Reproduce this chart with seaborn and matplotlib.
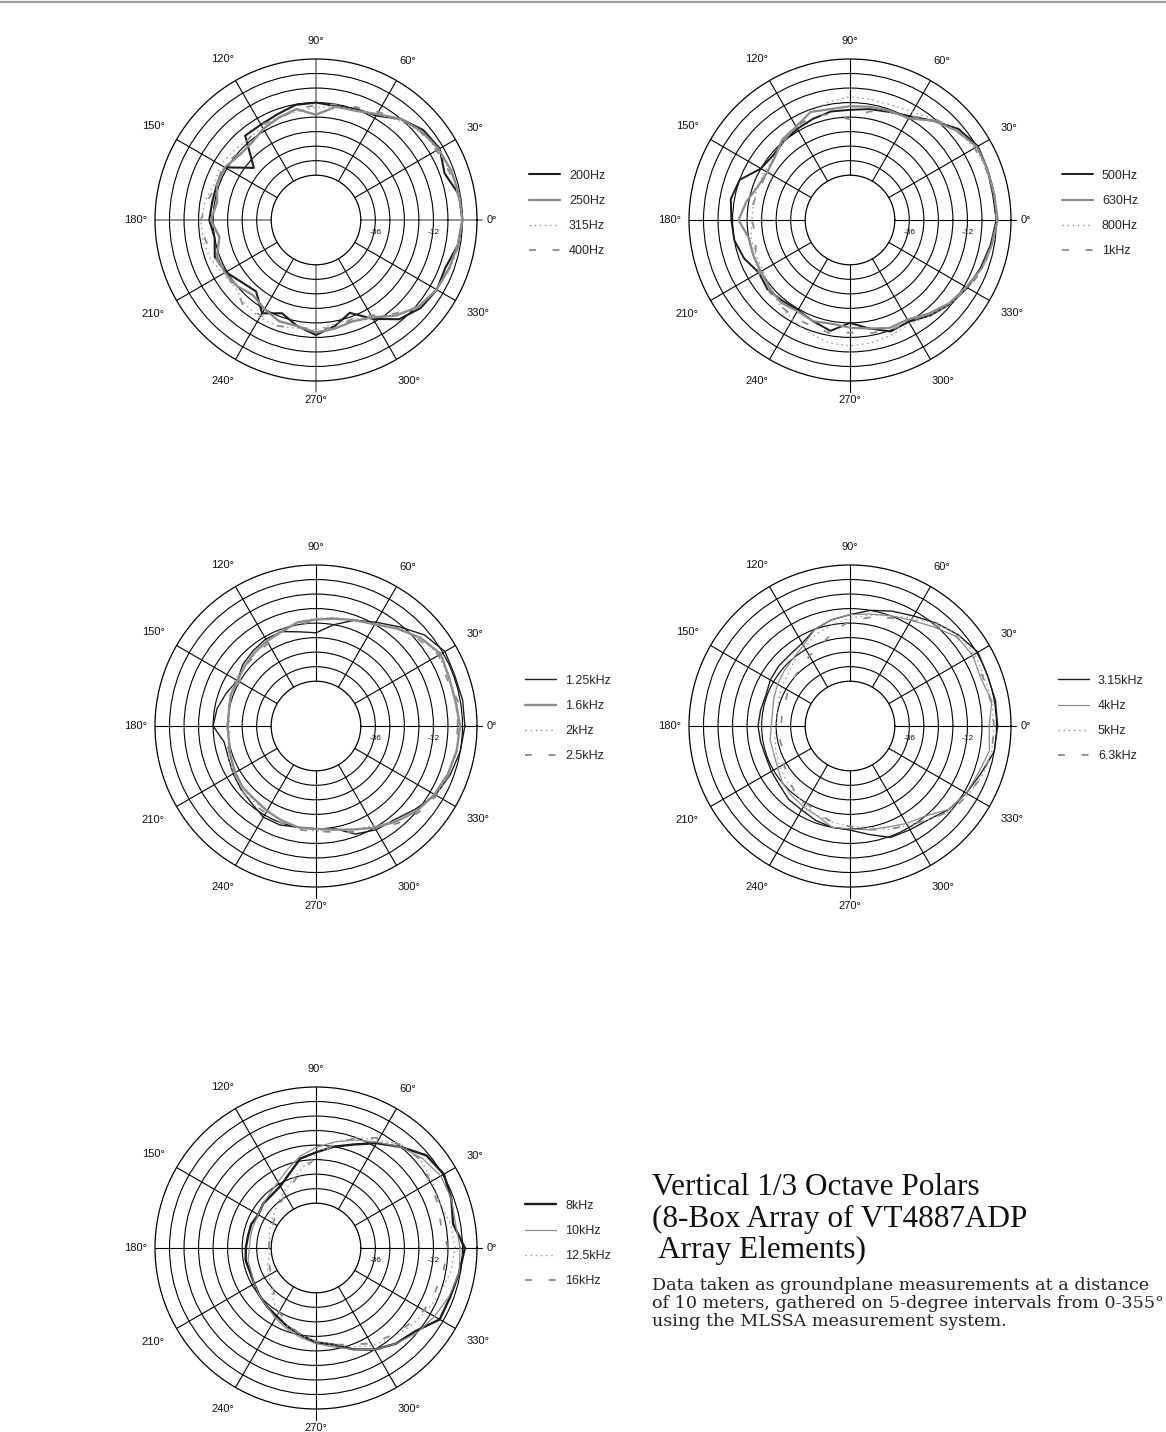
import numpy as np
import pandas as pd
import matplotlib
matplotlib.use("Agg")
import matplotlib.pyplot as plt
import matplotlib.transforms as mtransforms
import seaborn as sns
from matplotlib.lines import Line2D

sns.set_theme(style="white")
plt.rcParams["font.family"] = ["Liberation Sans", "DejaVu Sans"]
plt.rcParams["lines.scale_dashes"] = False

# ---------------- data (dB, every 10 degrees, 0..350) ----------------
angles_deg = list(range(0, 360, 10))
theta_tick_deg = list(range(0, 360, 30))
theta_labels = [f"{a}°" for a in theta_tick_deg]
ring_ticks = [-36, -30, -24, -18, -12, -6, 0]
ring_labels = ["-36", "-12"]

names_p1 = ["200Hz", "250Hz", "315Hz", "400Hz"]
p1_200 = [0, -0.5, -4, -1.5, -2.7, -6, -10.7, -11.8, -12.7, -12, -12.2, -14, -15, -15, -27, -17, -17, -17,
          -16.4, -18, -16, -17.5, -20.5, -22, -16, -19.5, -16, -13, -16, -19.7, -13.3, -7, -4, -2.9, -3.5, -1]
p1_250 = [0, -0.5, -1, -2, -3.5, -6, -10, -12.5, -13, -17, -14, -15.5, -17, -19, -19, -17, -17, -19,
          -17, -20, -17, -17, -18, -20, -18, -16, -16, -14, -15, -16, -14, -9, -5, -3, -2, -1]
p1_315 = [0, -0.5, -1.5, -2.5, -4, -7, -10, -12, -13, -14, -15, -15, -16, -17, -16, -15, -16, -14,
          -13, -13, -14, -16, -17, -15, -14, -14, -15, -15, -17, -17, -14, -9, -5, -3, -1.5, -0.5]
p1_400 = [0, -1, -2, -3, -4, -6, -9, -11, -12, -13, -14, -16, -15, -17, -18, -16, -17, -15,
          -13, -14, -16, -17, -17, -14, -15, -14, -15, -16, -15, -17, -15, -10, -5, -3, -2, -0.5]

names_p2 = ["500Hz", "630Hz", "800Hz", "1kHz"]
p2_500 = [0, -0.5, 0, 0.5, -2, -7, -11, -13, -14, -15, -15, -16, -17, -18, -19, -18, -12, -10.5,
          -11.5, -12, -14, -17, -16, -17, -17.5, -16, -14, -18, -15, -11.5, -12, -9, -6.5, -4.5, -3, -1.5]
p2_630 = [0.5, 0, 0, 0, -3, -7, -12, -12.5, -13, -13.5, -14, -13, -16, -17, -20, -21, -20, -17,
          -14.5, -18, -18, -18, -17, -16, -17, -16, -17, -16, -15, -13, -13, -10, -7, -5, -2.5, -1]
p2_800 = [0, 0, 0, -1, -3, -6, -9, -10, -10, -9.5, -11, -13, -16, -18, -20, -20, -20, -20,
          -20, -19, -19, -19, -17, -15, -13, -11, -9, -8.5, -9, -10, -11, -9, -6.5, -4.5, -2.5, -1]
p2_1k = [0, 0, -0.5, -1, -3, -6, -11, -13, -15, -19, -16, -15, -16, -18, -20, -21, -21, -20,
         -20, -21, -19, -17, -16, -15, -14, -14, -13, -14, -13, -12, -12, -10, -7, -4, -2, -1]

names_p3 = ["1.25kHz", "1.6kHz", "2kHz", "2.5kHz"]
p3_1250 = [1, 1, 0.5, 1, -2, -7, -11, -14, -18, -22, -21, -19, -19, -20, -21, -23, -21, -19,
           -18, -22, -22, -21, -20, -19, -17, -17, -18, -18, -17.5, -13, -11, -10, -7, -3.5, -1.5, 0]
p3_1600 = [-1, -2, -2, -1, -4, -8, -12, -14, -15.5, -16.5, -17, -19, -20, -21, -22, -23, -23, -24,
           -24, -24, -23, -22, -21, -21, -20, -19, -18, -18, -17, -15, -12, -9, -6, -4, -2.5, -1.5]
p3_2k = [-1, -1.5, -2, -2, -4, -7.5, -12, -14, -15, -16, -17, -18, -20, -21, -22, -22, -23, -24,
         -25, -24, -22, -21, -21, -20, -20, -19, -18, -17, -17, -15, -13, -9, -6, -3.5, -2, -1.5]
p3_2500 = [-2, -1, -3, -2, -5, -8, -12, -14, -15, -17, -18, -19, -21, -22, -22, -24, -24, -23,
           -24, -23, -23, -22, -20, -19, -19, -18, -17, -17, -16, -14, -12, -8, -5, -3, -2, -1.5]

names_p4 = ["3.15kHz", "4kHz", "5kHz", "6.3kHz"]
p4_3150 = [0.5, 0.5, 0, 0.5, -2, -5, -8, -10, -12, -14.5, -16, -18, -21, -22, -22, -22.5, -23.5, -23,
           -22.5, -23, -23.5, -23, -22.5, -21, -20.5, -19, -18, -17.5, -15, -11.5, -11, -10, -7, -5, -3, 0]
p4_4k = [-3, -1, -3, -2, -3, -7, -10, -12, -13.5, -14.5, -16, -18, -22, -24, -25, -26, -27, -28,
         -28, -27, -27, -26, -24, -23, -22, -21, -18, -18, -17, -16, -14, -12, -7, -5, -4, -2]
p4_5k = [-1, -1, -1.5, -1, -2, -5, -9, -12, -14, -16, -18, -20, -23, -25, -27, -28, -29, -30,
         -30, -29, -28, -27, -26, -25, -23, -21, -20, -19, -18, -15, -13, -10, -6, -4, -2, -1]
p4_6300 = [-1, -1.5, -2, -2, -3, -6, -10, -13, -15, -17, -21, -25, -27, -29, -30, -31, -32, -32,
           -32, -31, -31, -29, -27, -25, -24, -22, -20, -19, -17, -15, -13, -10, -6, -4, -2, -1]

names_p5 = ["8kHz", "10kHz", "12.5kHz", "16kHz"]
p5_8k = [1, -3, -1, 0.5, -1, -6, -10.5, -15, -18, -21, -23, -28, -31, -32, -32, -33, -32, -32,
         -31.5, -31, -31.5, -31, -30, -29, -28, -26, -24, -21.5, -20, -16, -12, -9, -7, -1.5, -1.5, -0.5]
p5_10k = [-1, -2, -1, -1, -3, -6, -10, -13, -16, -19, -22, -26, -29, -31, -32, -33, -33, -33,
          -33, -32, -32, -31, -30, -29, -27, -25, -23, -21, -19, -16, -12, -9, -6, -4, -2, -0.5]
p5_12500 = [-3, -4, -6, -5, -4, -5, -9, -12, -16, -22, -27, -31, -34, -36, -38, -39, -40, -41,
            -41, -41, -39, -38, -36, -33, -29, -26, -24, -22, -20, -17, -14, -12, -10, -8, -6, -4]
p5_16k = [-6, -8, -7, -6, -4, -5, -8, -12, -17, -23, -28, -32, -35, -37, -39, -40, -41, -41,
          -41, -41, -40, -39, -37, -34, -30, -27, -24, -22, -20, -18, -15, -13, -11, -9, -8, -7]

title_lines = ["Vertical 1/3 Octave Polars", "(8-Box Array of VT4887ADP", " Array Elements)"]
body_lines = ["Data taken as groundplane measurements at a distance",
              "of 10 meters, gathered on 5-degree intervals from 0-355°",
              "using the MLSSA measurement system."]

panels = [
    (names_p1, [p1_200, p1_250, p1_315, p1_400]),
    (names_p2, [p2_500, p2_630, p2_800, p2_1k]),
    (names_p3, [p3_1250, p3_1600, p3_2k, p3_2500]),
    (names_p4, [p4_3150, p4_4k, p4_5k, p4_6300]),
    (names_p5, [p5_8k, p5_10k, p5_12500, p5_16k]),
]

# ---------------- layout / style (not data) ----------------
W, H = 1166, 1432
R = 161
R_ORIGIN, R_MIN, R_MAX = -60.5, -42, 6
centers = [(316, 220), (850, 220), (316, 726), (850, 726), (316, 1248)]
legend_pos = [(529, 176), (1062, 176), (525, 681), (1058, 681), (525, 1206)]
label_dist_px = [176, 184, 184, 179, 186, 188, 180, 188, 186, 180, 186, 187]
main_lw = [(1.5, 1.7), (1.4, 1.6), (1.0, 1.7), (1.0, 0.9), (1.7, 0.9)]
gray_axes = [True, False, False, False, False]
BLACK, GRAY, LGRAY = "#1c1c1c", "#8a8a8a", "#9a9a9a"

fig = plt.figure(figsize=(W / 100, H / 100), dpi=100)
fig.patch.set_facecolor("white")
fig.add_artist(Line2D([0, 1], [1 - 1.5 / H] * 2, color="#9c9c9c", lw=1.6,
                      transform=fig.transFigure))

for i, (names, series) in enumerate(panels):
    cx, cy = centers[i]
    ax = fig.add_axes([(cx - R) / W, 1 - (cy + R) / H, 2 * R / W, 2 * R / H], projection="polar")
    ax.set_facecolor("white")
    lw1, lw2 = main_lw[i]
    styles = [
        dict(color=BLACK, lw=lw1, linestyle="-"),
        dict(color=GRAY, lw=lw2, linestyle="-"),
        dict(color=LGRAY, lw=1.0, linestyle=(0, (1.1, 2.6))),
        dict(color=GRAY, lw=1.3, linestyle=(0, (5, 12))),
    ]
    handles = []
    for name, vals, st in zip(names, series, styles):
        df = pd.DataFrame({"theta": np.deg2rad(angles_deg + [360]), "db": vals + [vals[0]]})
        sns.lineplot(data=df, x="theta", y="db", ax=ax, sort=False, errorbar=None, **st)
        handles.append(ax.lines[-1])
    ax.set_xlim(0, 2 * np.pi)
    ax.set_rorigin(R_ORIGIN)
    ax.set_rlim(R_MIN, R_MAX)
    ax.set_yticks(ring_ticks)
    ax.set_yticklabels([])
    ax.set_thetagrids(theta_tick_deg, [""] * len(theta_tick_deg))
    ax.set_xlabel("")
    ax.set_ylabel("")
    ax.grid(True, color="black", lw=0.8)
    # angle labels placed around the rim
    for a, lab, d in zip(theta_tick_deg, theta_labels, label_dist_px):
        r_lab = R_ORIGIN + d / R * (R_MAX - R_ORIGIN)
        ax.text(np.deg2rad(a), r_lab, lab, ha="center", va="center", fontsize=8,
                color="#111111", clip_on=False)
    gl = ax.xaxis.get_gridlines()
    if gray_axes[i]:
        for k in (0, 3, 6, 9):
            gl[k].set_color("#8a8a8a")
            gl[k].set_linewidth(1.3)
    ext_color = "#8a8a8a" if gray_axes[i] else "black"
    ax.plot([0, 0], [R_MAX, R_MAX + 2.2], color=ext_color, lw=gl[0].get_linewidth(), clip_on=False)
    ax.plot([1.5 * np.pi, 1.5 * np.pi], [R_MAX, R_MAX + 4.5], color=ext_color,
            lw=gl[9].get_linewidth(), clip_on=False)
    for sp in ("polar", "inner"):
        ax.spines[sp].set_color("black")
        ax.spines[sp].set_linewidth(0.9)
    lab_tr = mtransforms.offset_copy(ax.transData, fig=fig, x=0, y=-9, units="points")
    for lab in ring_labels:
        ax.text(0, float(lab), lab, transform=lab_tr, ha="center", va="center",
                fontsize=6, color="#111111", clip_on=False, zorder=10)
    lx, ly = legend_pos[i]
    fig.legend(handles, names, loc="center left",
               bbox_to_anchor=(lx / W, 1 - (ly + 37.5) / H), bbox_transform=fig.transFigure,
               frameon=False, fontsize=9, handlelength=2.5, handletextpad=0.7,
               labelspacing=1.06, borderpad=0, borderaxespad=0)

for j, (txt, yb) in enumerate(zip(title_lines, [1195, 1227, 1258])):
    fig.text(652 / W, 1 - yb / H, txt, fontsize=22.5, family=["Liberation Serif", "DejaVu Serif"],
             va="baseline", ha="left", color="#111111")
for txt, yb in zip(body_lines, [1290, 1308, 1326]):
    fig.text(652 / W, 1 - yb / H, txt, fontsize=12.6, family=["DejaVu Serif"],
             va="baseline", ha="left", color="#222222")

fig.savefig("out.png", dpi=100, facecolor="white")
